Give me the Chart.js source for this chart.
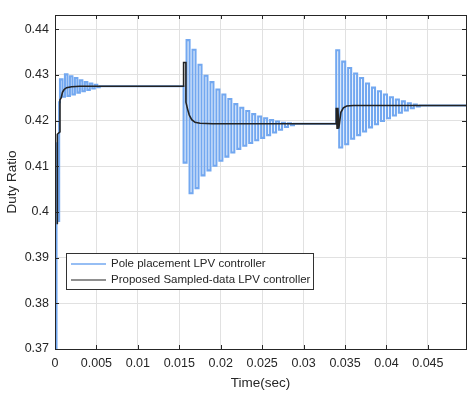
<!DOCTYPE html>
<html lang="en">
<head>
    <meta charset="UTF-8">
    <title>Duty Ratio</title>
    <script src="https://cdn.jsdelivr.net/npm/chart.js"></script>
    <style>
        body { margin: 0; background: #fff; }
        #dutyChart { display: block; }
    </style>
</head>
<body>
    <canvas id="dutyChart" width="474" height="394"></canvas>

    <script>
        // axis ticks
        const xTicks = [0, 0.005, 0.01, 0.015, 0.02, 0.025, 0.03, 0.035, 0.04, 0.045];
        const xTickLabels = ['0', '0.005', '0.01', '0.015', '0.02', '0.025', '0.03', '0.035', '0.04', '0.045'];
        const yTicks = [0.37, 0.38, 0.39, 0.40, 0.41, 0.42, 0.43, 0.44];
        const yTickLabels = ['0.37', '0.38', '0.39', '0.4', '0.41', '0.42', '0.43', '0.44'];

        const seriesNames = ['Pole placement LPV controller', 'Proposed Sampled-data LPV controller'];

        // pole placement controller (sampled, held between samples)
        const poleTime = [
            0, 0.00018, 0.00036, 0.0005,
            0.0006, 0.0009, 0.0012, 0.0015, 0.0018, 0.0021, 0.0024, 0.0027, 0.003, 0.0033,
            0.0036, 0.0039, 0.0042, 0.0045, 0.0048, 0.0051, 0.0054,
            // load step 1
            0.01552, 0.01588, 0.01624, 0.0166, 0.01696, 0.01732, 0.01768, 0.01804, 0.0184, 0.01876,
            0.01912, 0.01948, 0.01984, 0.0202, 0.02056, 0.02092, 0.02128, 0.02164, 0.022, 0.02236,
            0.02272, 0.02308, 0.02344, 0.0238, 0.02416, 0.02452, 0.02488, 0.02524, 0.0256, 0.02596,
            0.02632, 0.02668, 0.02704, 0.0274, 0.02776, 0.02812, 0.02848, 0.02884,
            // load step 2
            0.03394, 0.0343, 0.03466, 0.03502, 0.03538, 0.03574, 0.0361, 0.03646, 0.03682, 0.03718,
            0.03754, 0.0379, 0.03826, 0.03862, 0.03898, 0.03934, 0.0397, 0.04006, 0.04042, 0.04078,
            0.04114, 0.0415, 0.04186, 0.04222, 0.04258, 0.04294, 0.0433, 0.04366, 0.04402, 0.0496
        ];
        const poleDuty = [
            0.362, 0.415, 0.398, 0.424,
            0.4290, 0.4252, 0.4301, 0.4254, 0.4297, 0.4257, 0.4293, 0.4261, 0.4288, 0.4264,
            0.4284, 0.4267, 0.4281, 0.4270, 0.4278, 0.4273, 0.4275,
            0.4108, 0.4376, 0.4041, 0.4355, 0.4052, 0.4322, 0.4080, 0.4298, 0.4091, 0.4284,
            0.4101, 0.4268, 0.4112, 0.4257, 0.4121, 0.4247, 0.4130, 0.4236, 0.4138, 0.4228,
            0.4145, 0.4221, 0.4151, 0.4214, 0.4157, 0.4209, 0.4162, 0.4205, 0.4168, 0.4201,
            0.4174, 0.4198, 0.4180, 0.4195, 0.4186, 0.4194, 0.4190, 0.4193,
            0.4354, 0.4141, 0.4329, 0.4148, 0.4315, 0.4160, 0.4303, 0.4168, 0.4293, 0.4176,
            0.4281, 0.4185, 0.4272, 0.4192, 0.4264, 0.4199, 0.4257, 0.4205, 0.4251, 0.4211,
            0.4246, 0.4217, 0.4242, 0.4222, 0.4238, 0.4227, 0.4235, 0.4231, 0.4233, 0.4233
        ];

        // proposed sampled-data controller
        const propTime = [
            0.00018, 0.00028, 0.00028, 0.0006, 0.0006, 0.00075, 0.0009, 0.0011, 0.0014, 0.002, 0.003,
            0.01552, 0.01552, 0.0158, 0.0158, 0.016, 0.0162, 0.0165, 0.0169, 0.0175, 0.019,
            0.03394, 0.03394, 0.03404, 0.03414, 0.03424, 0.0343, 0.0345, 0.0348, 0.0352, 0.036, 0.0496
        ];
        const propDuty = [
            0.3975, 0.3975, 0.4170, 0.4175, 0.4245, 0.4250, 0.4262, 0.4268, 0.4272, 0.4274, 0.4275,
            0.4275, 0.4327, 0.4327, 0.4240, 0.4225, 0.4212, 0.4202, 0.4196, 0.4194, 0.4193,
            0.4193, 0.4228, 0.4183, 0.4228, 0.4183, 0.4190, 0.4218, 0.4228, 0.4232, 0.4233, 0.4233
        ];

        const blueColor = 'rgb(115, 168, 240)';
        const blackColor = 'rgb(35, 35, 35)';
        const textColor = 'rgb(38, 38, 38)';
        const fontFamily = '"Liberation Sans", Arial, Helvetica, sans-serif';

        const toPoints = (xs, ys) => xs.map((x, i) => ({ x: x, y: ys[i] }));

        // MATLAB style box with inward ticks
        const boxPlugin = {
            id: 'boxPlugin',
            afterDatasetsDraw(chart) {
                const { ctx, chartArea: a, scales } = chart;
                ctx.save();
                ctx.strokeStyle = textColor;
                ctx.lineWidth = 1;
                ctx.beginPath();
                xTicks.forEach(v => {
                    const px = Math.round(scales.x.getPixelForValue(v)) + 0.5;
                    ctx.moveTo(px, a.bottom); ctx.lineTo(px, a.bottom - 4);
                    ctx.moveTo(px, a.top); ctx.lineTo(px, a.top + 4);
                });
                yTicks.forEach(v => {
                    const py = Math.round(scales.y.getPixelForValue(v)) + 0.5;
                    ctx.moveTo(a.left, py); ctx.lineTo(a.left + 4, py);
                    ctx.moveTo(a.right, py); ctx.lineTo(a.right - 4, py);
                });
                ctx.stroke();
                ctx.strokeRect(Math.round(a.left) + 0.5, Math.round(a.top) + 0.5,
                    Math.round(a.right - a.left), Math.round(a.bottom - a.top));
                ctx.restore();
            }
        };

        const legendPlugin = {
            id: 'legendPlugin',
            afterDraw(chart) {
                const { ctx, chartArea: a } = chart;
                const left = a.left + 11, top = a.bottom - 96;
                const w = 247, h = 36;
                ctx.save();
                ctx.fillStyle = '#fff';
                ctx.fillRect(left, top, w, h);
                ctx.strokeStyle = 'rgb(50, 50, 50)';
                ctx.lineWidth = 1;
                ctx.strokeRect(left + 0.5, top + 0.5, w, h);
                const colors = [blueColor, blackColor];
                ctx.font = '11.5px ' + fontFamily;
                ctx.textBaseline = 'middle';
                seriesNames.forEach((name, i) => {
                    const y = top + 11 + i * 16;
                    ctx.strokeStyle = colors[i];
                    ctx.lineWidth = i === 0 ? 1.4 : 1.2;
                    ctx.beginPath();
                    ctx.moveTo(left + 5, y);
                    ctx.lineTo(left + 40, y);
                    ctx.stroke();
                    ctx.fillStyle = textColor;
                    ctx.fillText(name, left + 45, y);
                });
                ctx.restore();
            }
        };

        const ctx = document.getElementById('dutyChart').getContext('2d');
        const dutyChart = new Chart(ctx, {
            type: 'line',
            data: {
                datasets: [{
                    label: seriesNames[0],
                    data: toPoints(poleTime, poleDuty),
                    borderColor: blueColor,
                    borderWidth: 2.1,
                    stepped: 'before',
                    pointRadius: 0,
                    order: 1
                }, {
                    label: seriesNames[1],
                    data: toPoints(propTime, propDuty),
                    borderColor: blackColor,
                    borderWidth: 1.6,
                    tension: 0,
                    pointRadius: 0,
                    order: 0
                }]
            },
            options: {
                responsive: false,
                animation: false,
                devicePixelRatio: 1,
                layout: { padding: { top: 15, right: 8, left: 0, bottom: 0 } },
                plugins: {
                    legend: { display: false },
                    tooltip: { enabled: false }
                },
                scales: {
                    x: {
                        type: 'linear',
                        min: 0,
                        max: 0.0496,
                        afterBuildTicks: s => { s.ticks = xTicks.map(v => ({ value: v })); },
                        afterFit: s => { s.height = 45; },
                        ticks: {
                            callback: (v, i) => xTickLabels[i],
                            color: textColor,
                            font: { family: fontFamily, size: 12.5 },
                            padding: 7,
                            maxRotation: 0,
                            autoSkip: false
                        },
                        grid: { color: 'rgb(225, 225, 225)', drawTicks: false },
                        border: { display: false },
                        title: {
                            display: true,
                            text: 'Time(sec)',
                            color: textColor,
                            font: { family: fontFamily, size: 13.5 },
                            padding: { top: 0, bottom: 3 }
                        }
                    },
                    y: {
                        type: 'linear',
                        min: 0.37,
                        max: 0.4431,
                        afterBuildTicks: s => { s.ticks = yTicks.map(v => ({ value: v })); },
                        afterFit: s => { s.width = 55; },
                        ticks: {
                            callback: (v, i) => yTickLabels[i],
                            color: textColor,
                            font: { family: fontFamily, size: 12.5 },
                            padding: 6,
                            autoSkip: false
                        },
                        grid: { color: 'rgb(225, 225, 225)', drawTicks: false },
                        border: { display: false },
                        title: {
                            display: true,
                            text: 'Duty Ratio',
                            color: textColor,
                            font: { family: fontFamily, size: 13.5 },
                            padding: { top: 4, bottom: 0 }
                        }
                    }
                }
            },
            plugins: [boxPlugin, legendPlugin]
        });
    </script>
</body>
</html>
